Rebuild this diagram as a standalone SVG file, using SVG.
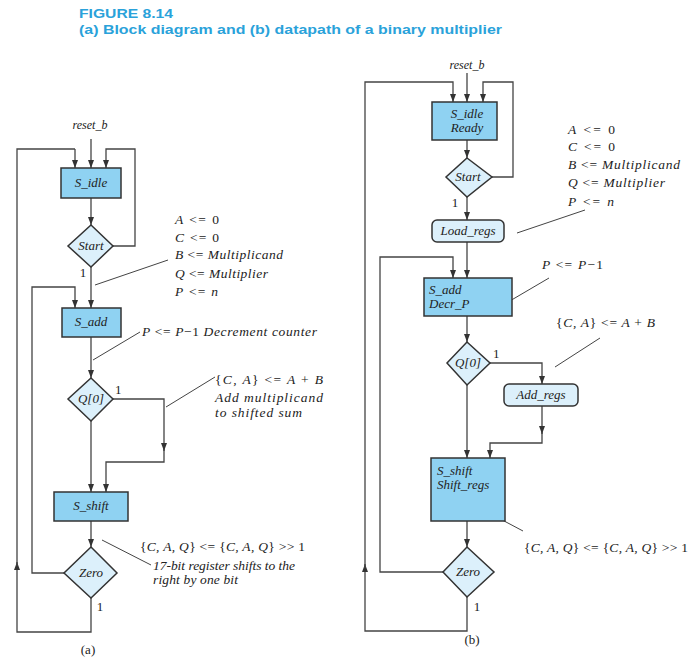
<svg xmlns="http://www.w3.org/2000/svg" width="700" height="663" viewBox="0 0 700 663">
<defs>
<marker id="ah" markerUnits="userSpaceOnUse" markerWidth="8" markerHeight="6" refX="8" refY="3" orient="auto">
<path d="M0,0 L8,3 L0,6 z" fill="#333"/>
</marker>
<style>
.box{fill:#8fd2f2;stroke:#333;stroke-width:1.5}
.dia{fill:#dcf0fb;stroke:#333;stroke-width:1.5}
.ln{fill:none;stroke:#444;stroke-width:1.3}
.ar{fill:none;stroke:#444;stroke-width:1.3;marker-end:url(#ah)}
.an{fill:none;stroke:#444;stroke-width:1}
.t{font-family:"Liberation Serif",serif;font-style:italic;font-size:13px;fill:#222}
.a{font-size:13.5px}
.s{font-size:12px}
.c{text-anchor:middle}
.n{font-style:normal}
.ttl{font-family:"Liberation Sans",Arial,sans-serif;font-weight:bold;fill:#2aa2da}
</style>
</defs>
<rect width="700" height="663" fill="#fff"/>
<text class="ttl" x="79" y="18" font-size="13" textLength="94" lengthAdjust="spacingAndGlyphs">FIGURE 8.14</text>
<text class="ttl" x="79" y="34" font-size="13" textLength="423" lengthAdjust="spacingAndGlyphs">(a) Block diagram and (b) datapath of a binary multiplier</text>

<g id="connectors">
<path class="ar" d="M91,139 V168"/>
<path class="ar" d="M91,598 V632 H17 V562"/>
<path class="ln" d="M17,566 V149 H75"/>
<path class="ar" d="M75,149 V168"/>
<path class="ar" d="M113,246 H135 V149 H106 V168"/>
<path class="ar" d="M91,198 V225"/>
<path class="ar" d="M91,267 V308"/>
<path class="ar" d="M64,573 H32 V287 H75 V308"/>
<path class="ar" d="M91,337 V378"/>
<path class="ar" d="M113,399 H164 V451"/>
<path class="ar" d="M164,449 V462 H106 V492"/>
<path class="ar" d="M91,421 V492"/>
<path class="ar" d="M91,521 V547"/>
<path class="an" d="M95,285 L168,260"/>
<path class="an" d="M93,360 L140,332"/>
<path class="an" d="M166,407 L215,377"/>
<path class="an" d="M102,540 L151,565"/>

<path class="ar" d="M467,73 V102"/>
<path class="ar" d="M467,597 V631 H365 V564"/>
<path class="ar" d="M365,568 V82 H453 V102"/>
<path class="ar" d="M492,177 H513 V82 H483 V102"/>
<path class="ar" d="M467,140 V158"/>
<path class="ar" d="M467,197 V220"/>
<path class="ar" d="M467,242 V278"/>
<path class="ar" d="M443,572 H380 V257 H453 V278"/>
<path class="ar" d="M467,316 V342"/>
<path class="ar" d="M490,363 H542 V384"/>
<path class="ar" d="M542,406 V434"/>
<path class="ar" d="M542,432 V443 H490 V458"/>
<path class="ar" d="M467,385 V458"/>
<path class="ar" d="M467,521 V547"/>
<path class="an" d="M517,233 L585,210"/>
<path class="an" d="M503,305 L549,278"/>
<path class="an" d="M555,367 L600,338"/>
<path class="an" d="M489,513 L523,531"/>
</g>

<g id="a-reset"><text class="t c s" x="90" y="129">reset_b</text></g>
<g id="a-sidle"><rect class="box" x="61" y="168" width="60" height="30"/><text class="t c" x="91" y="187">S_idle</text></g>
<g id="a-start"><path class="dia" d="M91,225 L113,246 L91,267 L68,246 z"/><text class="t c" x="91" y="250" font-size="11.5">Start</text><text class="t c n" x="83" y="277">1</text></g>
<g id="a-ann1">
<text class="t a" x="175" y="224" textLength="44" lengthAdjust="spacing">A <tspan class="n">&lt;= 0</tspan></text>
<text class="t a" x="175" y="242" textLength="44" lengthAdjust="spacing">C <tspan class="n">&lt;= 0</tspan></text>
<text class="t a" x="175" y="259" textLength="108" lengthAdjust="spacing">B <tspan class="n">&lt;=</tspan> Multiplicand</text>
<text class="t a" x="175" y="278" textLength="93" lengthAdjust="spacing">Q <tspan class="n">&lt;=</tspan> Multiplier</text>
<text class="t a" x="175" y="296" textLength="43" lengthAdjust="spacing">P <tspan class="n">&lt;=</tspan> n</text>
</g>
<g id="a-sadd"><rect class="box" x="62" y="308" width="59" height="29"/><text class="t c" x="91" y="326">S_add</text></g>
<g id="a-ann2"><text class="t a" x="142" y="336" textLength="175" lengthAdjust="spacing">P <tspan class="n">&lt;=</tspan> P<tspan class="n">−1</tspan>   Decrement counter</text></g>
<g id="a-q0"><path class="dia" d="M91,378 L113,399 L91,421 L68,399 z"/><text class="t c" x="91" y="403" font-size="11.5">Q[0]</text><text class="t n" x="115" y="394">1</text></g>
<g id="a-ann3">
<text class="t a" x="215" y="384" textLength="108" lengthAdjust="spacing"><tspan class="n">{</tspan>C, A<tspan class="n">} &lt;=</tspan> A <tspan class="n">+</tspan> B</text>
<text class="t a" x="215" y="402" textLength="108" lengthAdjust="spacing">Add multiplicand</text>
<text class="t a" x="215" y="417" textLength="87" lengthAdjust="spacing">to shifted sum</text>
</g>
<g id="a-sshift"><rect class="box" x="54" y="492" width="74" height="29"/><text class="t c" x="91" y="510">S_shift</text></g>
<g id="a-zero"><path class="dia" d="M91,547 L117,573 L91,598 L64,573 z"/><text class="t c" x="91" y="577" font-size="12.5">Zero</text><text class="t c n" x="100" y="611">1</text></g>
<g id="a-ann4">
<text class="t a" x="140" y="551" textLength="165" lengthAdjust="spacing"><tspan class="n">{</tspan>C, A, Q<tspan class="n">} &lt;= {</tspan>C, A, Q<tspan class="n">} &gt;&gt; 1</tspan></text>
<text class="t a" x="153" y="570" textLength="142" lengthAdjust="spacing">17-bit register shifts to the</text>
<text class="t a" x="153" y="584" textLength="85" lengthAdjust="spacing">right by one bit</text>
</g>
<g id="a-label"><text class="t c n" x="88" y="654">(a)</text></g>

<g id="b-reset"><text class="t c s" x="467" y="69">reset_b</text></g>
<g id="b-sidle"><rect class="box" x="432" y="102" width="65" height="38"/><text class="t c" x="467" y="118">S_idle</text><text class="t c" x="467" y="132">Ready</text></g>
<g id="b-start"><path class="dia" d="M467,158 L492,177 L467,197 L446,177 z"/><text class="t c" x="468" y="181" font-size="11.5">Start</text><text class="t c n" x="455" y="207">1</text></g>
<g id="b-load"><rect class="dia" x="432" y="220" width="72" height="22" rx="5"/><text class="t c" x="468" y="235">Load_regs</text></g>
<g id="b-ann1">
<text class="t a" x="568" y="134" textLength="47" lengthAdjust="spacing">A <tspan class="n">&lt;= 0</tspan></text>
<text class="t a" x="568" y="151" textLength="47" lengthAdjust="spacing">C <tspan class="n">&lt;= 0</tspan></text>
<text class="t a" x="568" y="169" textLength="112" lengthAdjust="spacing">B <tspan class="n">&lt;=</tspan> Multiplicand</text>
<text class="t a" x="568" y="187" textLength="97" lengthAdjust="spacing">Q <tspan class="n">&lt;=</tspan> Multiplier</text>
<text class="t a" x="568" y="206" textLength="46" lengthAdjust="spacing">P <tspan class="n">&lt;=</tspan> n</text>
</g>
<g id="b-sadd"><rect class="box" x="424" y="278" width="88" height="38"/><text class="t" x="429" y="293.5">S_add</text><text class="t" x="429" y="307.5">Decr_P</text></g>
<g id="b-ann2"><text class="t a" x="542" y="269" textLength="61" lengthAdjust="spacing">P <tspan class="n">&lt;=</tspan> P<tspan class="n">−1</tspan></text></g>
<g id="b-q0"><path class="dia" d="M467,342 L490,363 L467,385 L447,363 z"/><text class="t c" x="468" y="367" font-size="11.5">Q[0]</text><text class="t n" x="493" y="358">1</text></g>
<g id="b-ann3"><text class="t a" x="556" y="327" textLength="99" lengthAdjust="spacing"><tspan class="n">{</tspan>C, A<tspan class="n">} &lt;=</tspan> A <tspan class="n">+</tspan> B</text></g>
<g id="b-add"><rect class="dia" x="504" y="384" width="74" height="22" rx="5"/><text class="t c" x="541" y="399">Add_regs</text></g>
<g id="b-sshift"><rect class="box" x="431" y="458" width="74" height="63"/><text class="t" x="437" y="475">S_shift</text><text class="t" x="437" y="489">Shift_regs</text></g>
<g id="b-ann4"><text class="t a" x="524" y="552" textLength="164" lengthAdjust="spacing"><tspan class="n">{</tspan>C, A, Q<tspan class="n">} &lt;= {</tspan>C, A, Q<tspan class="n">} &gt;&gt; 1</tspan></text></g>
<g id="b-zero"><path class="dia" d="M467,547 L494,572 L467,597 L443,572 z"/><text class="t c" x="468" y="576" font-size="12.5">Zero</text><text class="t c n" x="477" y="611">1</text></g>
<g id="b-label"><text class="t c n" x="472" y="644">(b)</text></g>
</svg>
